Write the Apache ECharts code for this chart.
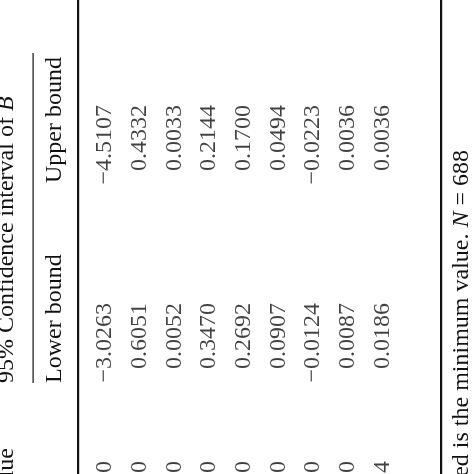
<!DOCTYPE html>
<html><head><meta charset="utf-8">
<script src="https://cdn.jsdelivr.net/npm/echarts@6/dist/echarts.min.js"></script>
<style>html,body{margin:0;padding:0;background:#fff}#c{width:474px;height:474px}</style>
</head><body><div id="c"></div>
<script>
const rows = ['r1','r2','r3','r4','r5','r6','r7','r8','r9','r10'];
const lowerBound = ['−4.5107','0.4332','0.0033','0.2144','0.1700','0.0494','−0.0223','0.0036','0.0036','–'];
const upperBound = ['−3.0263','0.6051','0.0052','0.3470','0.2692','0.0907','−0.0124','0.0087','0.0186','–'];
const pValues = ['0.000','0.000','0.000','0.000','0.000','0.000','0.000','0.000','0.004',''];
const columns = ['Upper bound','Lower bound'];

const font = 'Liberation Serif';
const chart = echarts.init(document.getElementById('c'));
const lbl = {show:true, rotate:90, align:'right', verticalAlign:'middle', fontFamily:font, fontSize:24, color:'#111', formatter:p=>p.value[2]};
const dataCI = [];
rows.forEach((r,i)=>{
  dataCI.push([r,'Upper bound',upperBound[i]]);
  dataCI.push([r,'Lower bound',lowerBound[i]]);
});
const dataP = rows.map((r,i)=>[r,'P',pValues[i]]);
const dash = (d)=>d[2]==='–';
chart.setOption({
  animation:false,
  grid:[{left:87.7,width:346.7,top:6,height:396},{left:87.7,width:346.7,top:448,height:40}],
  xAxis:[{type:'category',data:rows,show:false,gridIndex:0},{type:'category',data:rows,show:false,gridIndex:1}],
  yAxis:[{type:'category',data:columns,show:false,gridIndex:0},{type:'category',data:['P'],show:false,gridIndex:1}],
  series:[
    {type:'scatter',xAxisIndex:0,yAxisIndex:0,symbolSize:0,
     data:dataCI.map(d=>dash(d)?{value:d,label:{align:'center',offset:[0,58]}}:{value:d}),label:lbl},
    {type:'scatter',xAxisIndex:1,yAxisIndex:1,symbolSize:0,data:dataP,label:lbl}
  ],
  graphic:[
    {type:'rect',shape:{x:77,y:0,width:2.2,height:474},style:{fill:'#111'}},
    {type:'rect',shape:{x:440,y:0,width:2.2,height:474},style:{fill:'#111'}},
    {type:'rect',shape:{x:32.5,y:53,width:1.2,height:330},style:{fill:'#111'}},
    {type:'text',x:7,y:383,rotation:Math.PI/2,style:{text:'95% Confidence interval of {i|B}',textAlign:'left',textVerticalAlign:'middle',font:'24px "Liberation Serif"',fill:'#111',rich:{i:{fontStyle:'italic',fontFamily:font,fontSize:24}}}},
    {type:'text',x:55,y:383,rotation:Math.PI/2,style:{text:'Lower bound',textAlign:'left',textVerticalAlign:'middle',font:'24px "Liberation Serif"',fill:'#111'}},
    {type:'text',x:55,y:183,rotation:Math.PI/2,style:{text:'Upper bound',textAlign:'left',textVerticalAlign:'middle',font:'24px "Liberation Serif"',fill:'#111'}},
    {type:'text',x:7,y:448,rotation:Math.PI/2,style:{text:'P value',textAlign:'right',textVerticalAlign:'middle',font:'24px "Liberation Serif"',fill:'#111'}},
    {type:'text',x:462,y:150,rotation:Math.PI/2,style:{text:'The reference group of each categorical variable used is the minimum value. {i|N} = 688',textAlign:'right',textVerticalAlign:'middle',font:'24px "Liberation Serif"',fill:'#111',rich:{i:{fontStyle:'italic',fontFamily:font,fontSize:24}}}}
  ]
});
</script></body></html>
